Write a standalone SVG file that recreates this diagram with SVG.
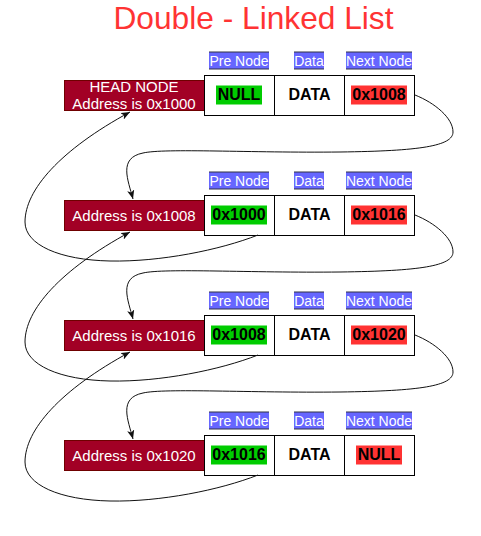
<svg xmlns="http://www.w3.org/2000/svg" width="481" height="536" viewBox="0 0 481 536">
<style>
.title{font-family:"Liberation Sans",Arial,sans-serif;font-size:31.7px;fill:#FF3333;text-anchor:middle}
.addr{fill:#A20025;stroke:#6F0000;stroke-width:1}
.addrt{font-family:"Liberation Sans",Arial,sans-serif;font-size:15px;fill:#FFFFFF;text-anchor:middle}
.cell{fill:#FFFFFF;stroke:#000000;stroke-width:1}
.ct{font-family:"Liberation Sans",Arial,sans-serif;font-size:16px;font-weight:bold;fill:#000000;text-anchor:middle}
.lbg{fill:#6666FF}
.lbl{stroke:#333344;stroke-width:1}
.lt{font-family:"Liberation Sans",Arial,sans-serif;font-size:14px;fill:#FFFFFF;text-anchor:middle}
.g{fill:#00CC00}
.r{fill:#FF3333}
.edge{fill:none;stroke:#111111;stroke-width:1;marker-end:url(#arr)}
</style>
<defs>
<marker id="arr" viewBox="0 0 10 8" markerWidth="9" markerHeight="7.5" refX="10" refY="4" orient="auto" markerUnits="userSpaceOnUse">
<path d="M0,0 L10,4 L0,8 L2.5,4 Z" fill="#111111"/>
</marker>
<g id="labels">
<rect class="lbg" x="209" y="52" width="60" height="17"/>
<line class="lbl" x1="209" y1="52" x2="269" y2="52"/>
<line class="lbl" x1="209" y1="69" x2="269" y2="69"/>
<text class="lt" x="239" y="65.5">Pre Node</text>
<rect class="lbg" x="294" y="52" width="30" height="17"/>
<line class="lbl" x1="294" y1="52" x2="324" y2="52"/>
<line class="lbl" x1="294" y1="69" x2="324" y2="69"/>
<text class="lt" x="309" y="65.5">Data</text>
<rect class="lbg" x="346" y="52" width="66" height="17"/>
<line class="lbl" x1="346" y1="52" x2="412" y2="52"/>
<line class="lbl" x1="346" y1="69" x2="412" y2="69"/>
<text class="lt" x="379" y="65.5">Next Node</text>
</g>
<g id="table">
<rect class="cell" x="204.5" y="75.5" width="70" height="40"/>
<rect class="cell" x="274.5" y="75.5" width="70" height="40"/>
<rect class="cell" x="344.5" y="75.5" width="70" height="40"/>
<text class="ct" x="309.5" y="100">DATA</text>
</g>
</defs>
<text class="title" x="253.5" y="28.5">Double - Linked List</text>

<g id="node1">
<rect class="addr" x="64.5" y="80.5" width="140" height="30"/>
<text class="addrt" x="134" y="92">HEAD NODE</text>
<text class="addrt" x="134" y="109">Address is 0x1000</text>
<use href="#labels"/>
<use href="#table"/>
<rect class="g" x="216" y="85.5" width="46" height="19"/>
<text class="ct" x="239" y="100">NULL</text>
<rect class="r" x="351" y="85.5" width="56" height="19"/>
<text class="ct" x="379" y="100">0x1008</text>
</g>

<g id="node2">
<rect class="addr" x="64.5" y="200.5" width="140" height="30"/>
<text class="addrt" x="134" y="221">Address is 0x1008</text>
<use href="#labels" y="120"/>
<use href="#table" y="120"/>
<rect class="g" x="211" y="205.5" width="56" height="19"/>
<text class="ct" x="239" y="220">0x1000</text>
<rect class="r" x="351" y="205.5" width="56" height="19"/>
<text class="ct" x="379" y="220">0x1016</text>
</g>

<g id="node3">
<rect class="addr" x="64.5" y="320.5" width="140" height="30"/>
<text class="addrt" x="134" y="341">Address is 0x1016</text>
<use href="#labels" y="240"/>
<use href="#table" y="240"/>
<rect class="g" x="211" y="325.5" width="56" height="19"/>
<text class="ct" x="239" y="340">0x1008</text>
<rect class="r" x="351" y="325.5" width="56" height="19"/>
<text class="ct" x="379" y="340">0x1020</text>
</g>

<g id="node4">
<rect class="addr" x="64.5" y="440.5" width="140" height="30"/>
<text class="addrt" x="134" y="461">Address is 0x1020</text>
<use href="#labels" y="360"/>
<use href="#table" y="360"/>
<rect class="g" x="211" y="445.5" width="56" height="19"/>
<text class="ct" x="239" y="460">0x1016</text>
<rect class="r" x="356" y="445.5" width="46" height="19"/>
<text class="ct" x="379" y="460">NULL</text>
</g>

<g id="connectors">
<path class="edge" d="M415,95 C435,103 453,118 453,132 C453,146 420,151 340,152 C250,153 165,148 143,153 C118,158 128,180 133,199"/>
<path class="edge" d="M415,215 C435,223 453,238 453,252 C453,266 420,271 340,272 C250,273 165,268 143,273 C118,278 128,300 133,319"/>
<path class="edge" d="M415,335 C435,343 453,358 453,372 C453,386 420,391 340,392 C250,393 165,388 143,393 C118,398 128,420 133,439"/>
<path class="edge" d="M258,235 C220,250 160,262 110,261 C60,260 25,245 25,222 C25,190 60,150 130,112"/>
<path class="edge" d="M258,355 C220,370 160,382 110,381 C60,380 25,365 25,342 C25,310 60,270 130,232"/>
<path class="edge" d="M258,475 C220,490 160,502 110,501 C60,500 25,485 25,462 C25,430 60,390 130,352"/>
</g>
</svg>
